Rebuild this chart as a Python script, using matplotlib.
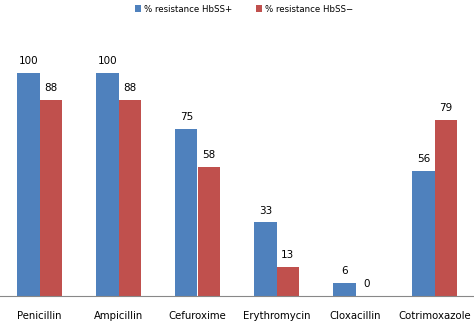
import matplotlib.pyplot as plt
import numpy as np

antibiotics = ['Penicillin', 'Ampicillin', 'Cefuroxime', 'Erythromycin', 'Cloxacillin', 'Cotrimoxazole']
hbss_pos = [100, 100, 75, 33, 6, 56]
hbss_neg = [88, 88, 58, 13, 0, 79]

blue = '#4F81BD'
red = '#C0504D'

fig = plt.figure(figsize=(4.74, 3.24), dpi=100)
ax = fig.add_axes([0, 0.086, 1, 0.82])

x = np.arange(len(antibiotics))
w = 0.28
b1 = ax.bar(x - w / 2, hbss_pos, width=w, color=blue, label='% resistance HbSS+')
b2 = ax.bar(x + w / 2, hbss_neg, width=w, color=red, label='% resistance HbSS\u2212')

for bars in (b1, b2):
    for bar in bars:
        h = bar.get_height()
        ax.text(bar.get_x() + bar.get_width() / 2, h + 3, f'{h:g}',
                ha='center', va='bottom', fontsize=7.5)

ax.set_xlim(-0.5, len(antibiotics) - 0.5)
ax.set_ylim(0, 119)
ax.set_xticks(x)
ax.set_xticklabels(antibiotics, fontsize=7.3)
ax.tick_params(axis='x', length=0, pad=11)
ax.set_yticks([])
for s in ['top', 'left', 'right']:
    ax.spines[s].set_visible(False)
ax.spines['bottom'].set_color('#888888')

fig.legend(loc='upper center', bbox_to_anchor=(0.515, 1.01), ncol=2, frameon=False,
           fontsize=6.2, handlelength=0.7, handleheight=0.7, handletextpad=0.3,
           columnspacing=2.8)

fig.savefig('out.png', dpi=100)
